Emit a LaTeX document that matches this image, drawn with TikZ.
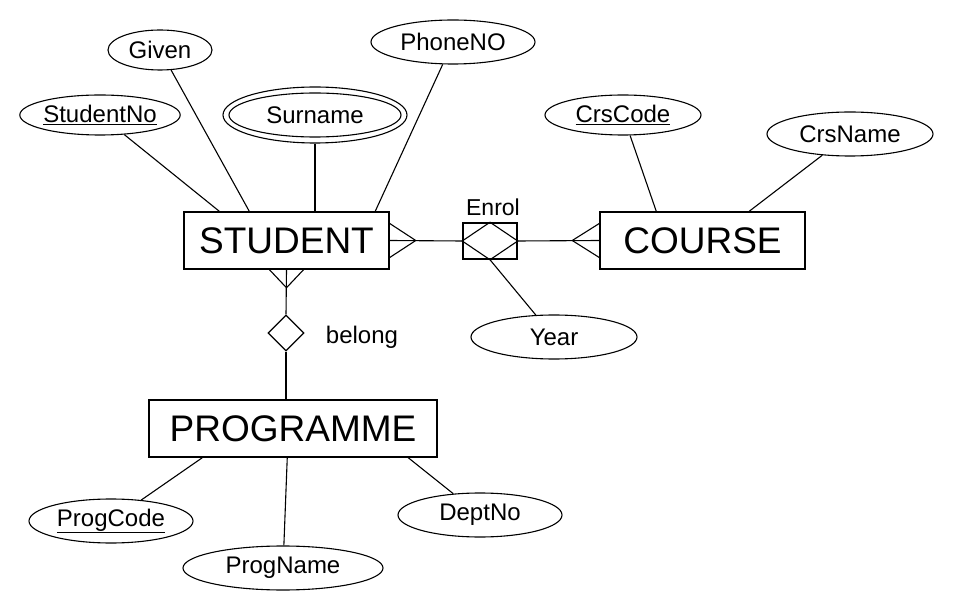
\documentclass[tikz,border=0pt]{standalone}
\usepackage{fontspec}
\setmainfont{Liberation Sans}
\usetikzlibrary{shapes.geometric,calc}
\begin{document}
\begin{tikzpicture}[x=1pt,y=-1pt,line width=1.1pt,
 ent/.style={draw,line width=1.5pt,inner sep=0,font=\fontsize{37}{40}\selectfont},
 att/.style={draw,ellipse,inner sep=0,font=\fontsize{24}{27}\selectfont},
 ln/.style={line width=1.1pt}]
\useasboundingbox (0,0) rectangle (972,609);
\node[ent,minimum width=205,minimum height=57] (stu) at (286.5,240.5) {STUDENT};
\node[ent,minimum width=205,minimum height=57] (crs) at (702.5,240.5) {COURSE};
\node[ent,minimum width=288,minimum height=57] (prg) at (293,428.5) {PROGRAMME};
\node[draw,line width=1.5pt,minimum width=54,minimum height=36,inner sep=0] (enr) at (490,241) {};
\node[font=\fontsize{23}{26}\selectfont,anchor=south] (enrl) at (493,220) {Enrol};
\draw[ln] (enr.west) -- (enr.north) -- (enr.east) -- (enr.south) -- cycle;
\node[draw,diamond,line width=1.1pt,minimum width=36,minimum height=36,inner sep=0] (bel) at (286,333) {};
\node[font=\fontsize{24}{27}\selectfont] (bell) at (362,337) {belong};
% attributes
\node[att,minimum width=104,minimum height=40] (giv) at (160,50) {Given};
\node[att,minimum width=146,minimum height=40] (sno) at (100,115) {\underline{StudentNo}};
\node[att,minimum width=184,minimum height=56] (sur) at (315,115) {};
\node[att,minimum width=172,minimum height=44] (sur2) at (315,115) {Surname};
\node[att,minimum width=164,minimum height=44] (ph) at (453,42) {PhoneNO};
\node[att,minimum width=156,minimum height=40] (cc) at (623,115) {\underline{CrsCode}};
\node[att,minimum width=166,minimum height=44] (cn) at (850,134) {CrsName};
\node[att,minimum width=166,minimum height=44] (yr) at (554,337) {Year};
\node[att,minimum width=164,minimum height=44] (pc) at (111,521) {\underline{ProgCode}};
\node[att,minimum width=200,minimum height=44] (pn) at (283,568) {ProgName};
\node[att,minimum width=164,minimum height=44] (dn) at (480,515) {DeptNo};
% attribute links
\draw[ln] (sno) -- ([xshift=36]stu.north west);
\draw[ln] (giv) -- ([xshift=66]stu.north west);
\draw[ln] (sur) -- (sur|-stu.north);
\draw[ln] (ph) -- ([xshift=192]stu.north west);
\draw[ln] (cc) -- ([xshift=57]crs.north west);
\draw[ln] (cn) -- ([xshift=150]crs.north west);
\draw[ln] (yr) -- (enr.south);
\draw[ln] (pc) -- ([xshift=54]prg.south west);
\draw[ln] (pn) -- ([xshift=139]prg.south west);
\draw[ln] (dn) -- ([xshift=260]prg.south west);
% relationships
\coordinate (sf) at ($(stu.east)+(26,0)$);
\draw[ln] (stu.east) -- (enr.west);
\draw[ln] ([yshift=-17]stu.east) -- (sf) -- ([yshift=17]stu.east);
\coordinate (cf) at ($(crs.west)+(-27,0)$);
\draw[ln] (crs.west) -- (enr.east);
\draw[ln] ([yshift=-17]crs.west) -- (cf) -- ([yshift=17]crs.west);
\coordinate (bf) at ($(stu.south)+(0,18)$);
\draw[ln] (stu.south) -- (bel.north);
\draw[ln] ([xshift=-17]stu.south) -- (bf) -- ([xshift=17]stu.south);
\draw[ln] (bel.south) -- (bel|-prg.north);
\end{tikzpicture}
\end{document}
